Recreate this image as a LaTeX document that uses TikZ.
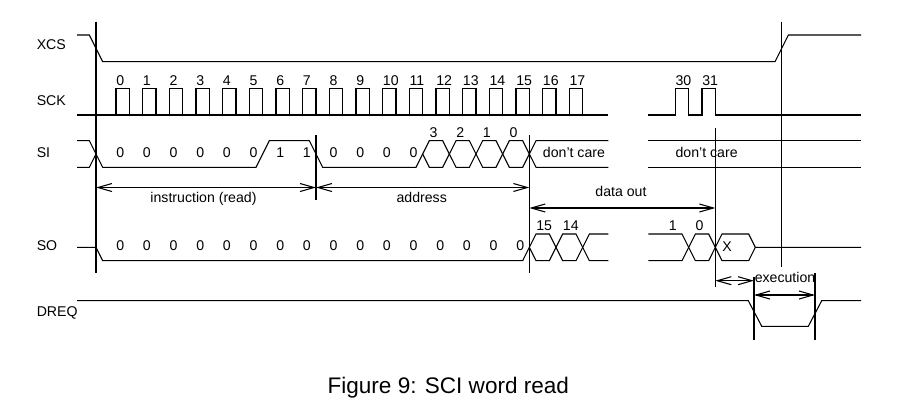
\documentclass[tikz,border=0pt]{standalone}
\usepackage{fontspec}
\setmainfont{Liberation Sans}
\usetikzlibrary{arrows.meta}
\begin{document}
\begin{tikzpicture}[x=0.75pt,y=-0.75pt,
  sig/.style={line width=0.8pt, line join=miter},
  guide/.style={line width=0.8pt},
  dim/.style={line width=0.8pt,{Straight Barb[length=10.5pt,width=6pt]}-{Straight Barb[length=10.5pt,width=6pt]}},
  lbl/.style={font=\fontsize{10.6}{12}\selectfont, inner sep=0pt, anchor=base west},
  clbl/.style={font=\fontsize{10.6}{12}\selectfont, inner sep=0pt, anchor=base}]
\useasboundingbox (0,0) rectangle (898,400);

% signal names
\node[lbl] (nxcs) at (36.5,49) {XCS};
\node[lbl] (nsck) at (36.5,105) {SCK};
\node[lbl] (nsi) at (36.5,157.8) {SI};
\node[lbl] (nso) at (36.5,250) {SO};
\node[lbl] (ndreq) at (36.5,316.7) {DREQ};

% XCS
\draw[sig] (77,35)--(89.333,35)--(102.667,61.7)--(775,61.7)--(788.333,35)--(861,35);

% SCK
\draw[sig] (77,115)--(608.3,115);
\foreach \k in {0,...,17}{
  \draw[sig] ({116+26.6667*\k},115)--({116+26.6667*\k},88.3)--({129.3333+26.6667*\k},88.3)--({129.3333+26.6667*\k},115);
  \node[lbl] (ck\k) at ({116+26.6667*\k},85) {\k};
}
\draw[sig] (648.3,115)--(675.333,115)--(675.333,88.3)--(688.667,88.3)--(688.667,115)--(702,115)--(702,88.3)--(715.333,88.3)--(715.333,115)--(861,115);
\node[lbl] (ck30) at (675.333,85) {30};
\node[lbl] (ck31) at (702,85) {31};

% SI
\draw[sig] (77,140.7)--(89.333,140.7)--(102.667,167.3)--(256,167.3)--(269.333,140.7)--(309.333,140.7)--(322.667,167.3)--(416,167.3)--(429.333,140.7)--(442.667,140.7)--(456,167.3)--(469.333,167.3)--(482.667,140.7)--(496,140.7)--(509.333,167.3)--(522.667,167.3)--(536,140.7)--(608.3,140.7);
\draw[sig] (422.667,154)--(429.333,167.3)--(442.667,167.3)--(456,140.7)--(469.333,140.7)--(482.667,167.3)--(496,167.3)--(509.333,140.7)--(522.667,140.7)--(536,167.3)--(608.3,167.3);
\draw[sig] (77,167.3)--(89.333,167.3)--(96,154);
\draw[sig] (648.3,140.7)--(861,140.7);
\draw[sig] (648.3,167.3)--(861,167.3);
\foreach \k/\v in {0/0,1/0,2/0,3/0,4/0,5/0,6/1,7/1,8/0,9/0,10/0,11/0}{
  \node[lbl] (si\k) at ({116+26.6667*\k},157.8) {\v};
}
\foreach \i/\v in {0/3,1/2,2/1,3/0}{
  \node[lbl] (sa\i) at ({429.333+26.6667*\i},137.8) {\v};
}
\node[lbl] (dc1) at (542.667,157.8) {don’t care};
\node[lbl] (dc2) at (675.333,157.8) {don’t care};

% SO
\draw[sig] (77,247.3)--(96,247.3)--(102.667,260.7)--(522.667,260.7)--(536,234)--(549.333,234)--(562.667,260.7)--(576,260.7)--(589.333,234)--(608.3,234);
\draw[sig] (529.333,247.3)--(536,260.7)--(549.333,260.7)--(562.667,234)--(576,234)--(589.333,260.7)--(608.3,260.7);
\draw[sig] (648.3,234)--(682,234)--(695.333,260.7)--(708.667,260.7)--(722,234)--(748.667,234)--(755.333,247.3)--(861,247.3);
\draw[sig] (648.3,260.7)--(682,260.7)--(695.333,234)--(708.667,234)--(722,260.7)--(748.667,260.7)--(755.333,247.3);
\foreach \k in {0,...,15}{
  \node[lbl] (so\k) at ({116+26.6667*\k},250) {0};
}
\node[lbl] (so15) at (536,230.4) {15};
\node[lbl] (so14) at (562.667,230.4) {14};
\node[lbl] (so1) at (668.667,230.4) {1};
\node[lbl] (so0) at (695.333,230.4) {0};
\node[lbl] (sox) at (722,251) {X};

% DREQ
\draw[sig] (77,300.7)--(748.3,300.7)--(761.7,326.3)--(808.3,326.3)--(821.7,300.7)--(861,300.7);

% guide lines
\coordinate (g0t) at (96,21.7);   \coordinate (g0b) at (96,273.3);
\coordinate (g1t) at (316,135);   \coordinate (g1b) at (316,200);
\coordinate (g2t) at (529.333,135); \coordinate (g2b) at (529.333,273.3);
\coordinate (g3t) at (715.333,128.3); \coordinate (g3b) at (715.333,286.7);
\coordinate (g4t) at (781.7,21.7); \coordinate (g4b) at (781.7,266.7);
\coordinate (g5t) at (754,277); \coordinate (g5b) at (754,340);
\coordinate (g6t) at (815,273.3); \coordinate (g6b) at (815,340);
\foreach \g in {0,...,6}{ \draw[guide] (g\g t)--(g\g b); }

% dimension arrows
\coordinate (a0) at (96,187.5);
\coordinate (a1) at (316,187.5);
\coordinate (a2) at (529.333,187.5);
\coordinate (b0) at (529.333,208);
\coordinate (b1) at (715.333,208);
\coordinate (c0) at (715.333,280.7);
\coordinate (c1) at (754,280.7);
\coordinate (d0) at (754,295);
\coordinate (d1) at (815,295);
\draw[dim] (a0)--(a1);
\draw[dim] (a1)--(a2);
\draw[dim] (b0)--(b1);
\draw[dim] (c0)--(c1);
\draw[dim] (d0)--(d1);
\node[clbl] (tinstr) at (203.5,202.5) {instruction (read)};
\node[clbl] (taddr) at (421.7,202.5) {address};
\node[clbl] (tdata) at (621,196.5) {data out};
\node[clbl] (texec) at (785,282) {execution};

% caption
\node[font=\fontsize{16.9}{20}\selectfont, inner sep=0pt, anchor=base] (cap) at (448.3,393.3) {Figure 9: SCI word read};
\end{tikzpicture}
\end{document}
